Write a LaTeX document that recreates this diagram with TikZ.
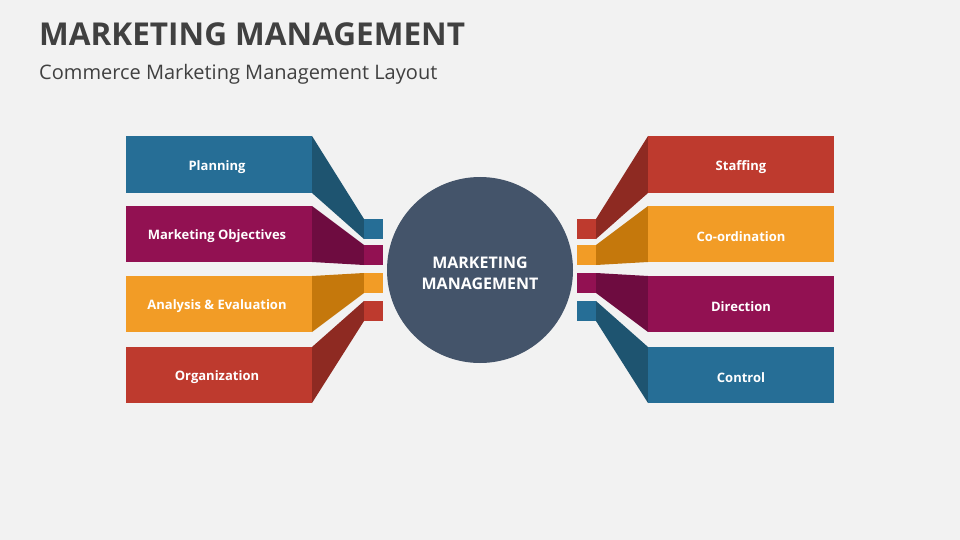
\documentclass[tikz,border=0pt]{standalone}
\usepackage{fontspec}
\setmainfont{Open Sans}
\definecolor{bg}{HTML}{F2F2F2}
\definecolor{kb}{HTML}{266E96}\definecolor{kbd}{HTML}{1E5470}
\definecolor{km}{HTML}{921152}\definecolor{kmd}{HTML}{6E0C40}
\definecolor{ko}{HTML}{F29C26}\definecolor{kod}{HTML}{C5780C}
\definecolor{kr}{HTML}{BE3A2E}\definecolor{krd}{HTML}{8E2A22}
\definecolor{circ}{HTML}{44546A}
\definecolor{tt}{HTML}{404040}
\begin{document}
\begin{tikzpicture}[x=1pt,y=-1pt,
  lbl/.style={text=white,font=\fontsize{13}{15}\selectfont\bfseries}]
\useasboundingbox (0,0) rectangle (960,540);
\fill[bg] (0,0) rectangle (960,540);
\node[anchor=base west,text=tt,font=\fontsize{31.5}{36}\selectfont\bfseries,inner sep=0] (title) at (39,46) {MARKETING MANAGEMENT};
\node[anchor=base west,text=tt,font=\fontsize{20}{24}\selectfont,inner sep=0] (sub) at (39,80) {Commerce Marketing Management Layout};
% left
\foreach \c/\d/\t/\b/\st/\sb/\txt/\n in {kb/kbd/136/193/219/239/Planning/l1, km/kmd/206/262/245/265/Marketing Objectives/l2, ko/kod/276/332/273/293/Analysis \& Evaluation/l3, kr/krd/347/403/301/321/Organization/l4}{
  \fill[\d] (312,\t) -- (364,\st) -- (364,\sb) -- (312,\b) -- cycle;
  \fill[\c] (364,\st) rectangle (383,\sb);
  \fill[\c] (126,\t) rectangle (312,\b);
  \node[lbl] (\n) at (217,{(\t+\b)/2+2.5}) {\txt};
}
% right
\foreach \c/\d/\t/\b/\st/\sb/\txt/\n in {kr/krd/136/193/219/239/Staffing/r1, ko/kod/206/262/245/265/Co-ordination/r2, km/kmd/276/332/273/293/Direction/r3, kb/kbd/347/403/301/321/Control/r4}{
  \fill[\d] (648,\t) -- (596,\st) -- (596,\sb) -- (648,\b) -- cycle;
  \fill[\c] (577,\st) rectangle (596,\sb);
  \fill[\c] (648,\t) rectangle (834,\b);
  \node[lbl] (\n) at (741,{(\t+\b)/2+2.5}) {\txt};
}
\fill[circ] (480,270) circle (93);
\node[text=white,font=\fontsize{16}{21}\selectfont\bfseries,align=center] (c) at (480,273) {MARKETING\\MANAGEMENT};
\end{tikzpicture}
\end{document}
